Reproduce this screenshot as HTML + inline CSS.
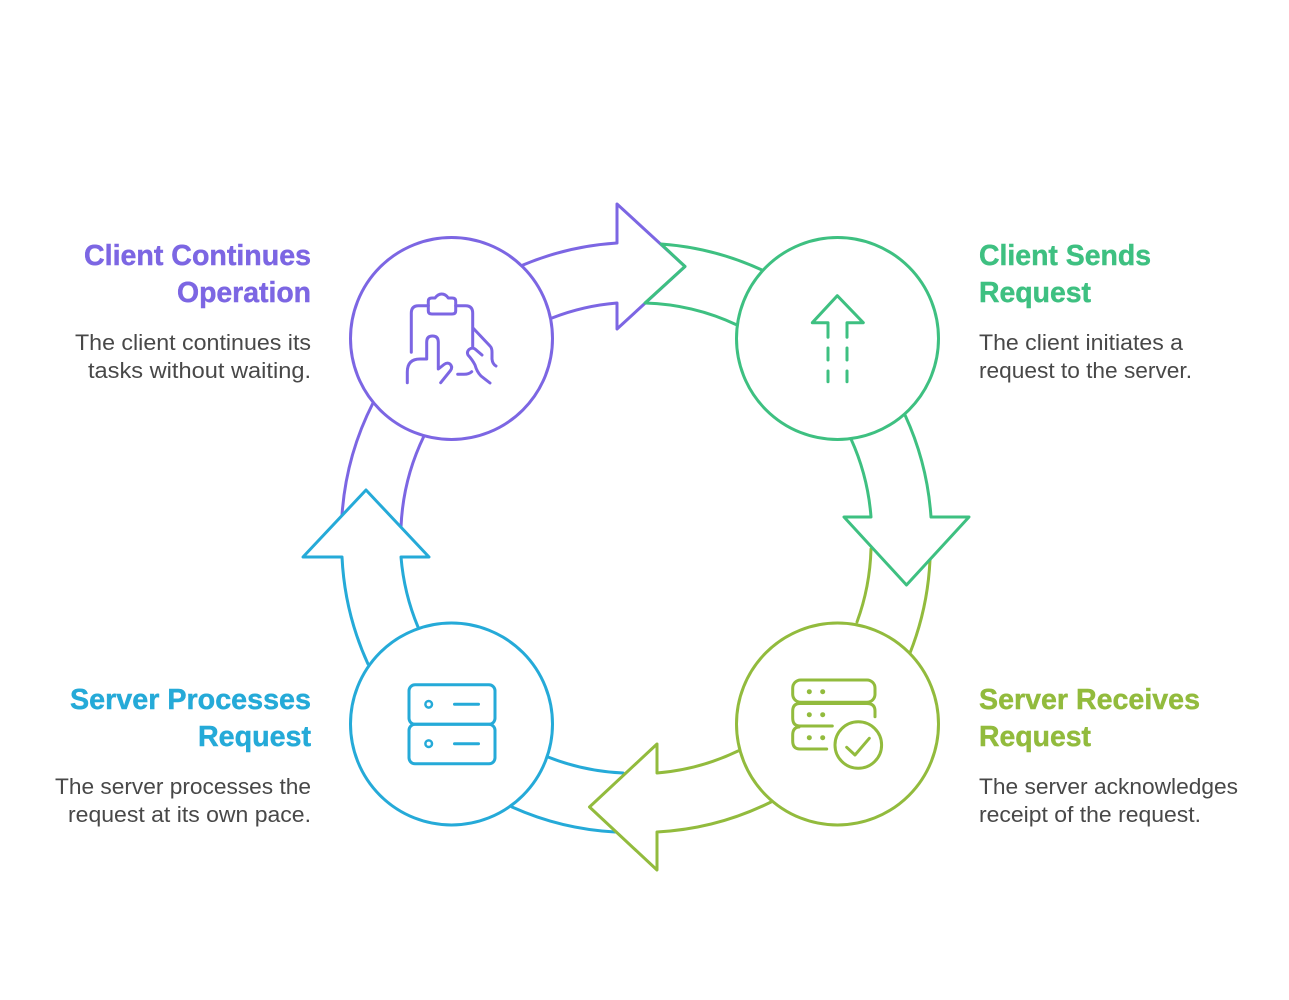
<!DOCTYPE html>
<html>
<head>
<meta charset="utf-8">
<style>
html,body{margin:0;padding:0;background:#fff;}
svg{display:block;}
.t{font-family:"Liberation Sans",sans-serif;font-weight:700;font-size:29px;stroke-width:.45;}
.b{font-family:"Liberation Sans",sans-serif;font-size:22px;fill:#484848;}
.s{fill:none;stroke-width:3;stroke-linecap:round;stroke-linejoin:round;}
.a{fill:#fff;stroke-width:3;stroke-linecap:round;stroke-linejoin:round;}
.i{fill:none;stroke-width:3;stroke-linecap:round;stroke-linejoin:round;}
</style>
</head>
<body>
<svg width="1289" height="1000" viewBox="0 0 1289 1000" xmlns="http://www.w3.org/2000/svg">
<rect width="1289" height="1000" fill="#fff"/>

<!-- purple arrow -->
<g stroke="#7C66E3">
<path class="s" d="M523 265 A290 290 0 0 1 617 243 L617 204 L685 266.5 L617 329 L617 303 A230 230 0 0 0 552 318"/>
<path class="s" d="M373 403 A290 290 0 0 0 342 515"/>
<path class="s" d="M424 436 A230 230 0 0 0 401 527"/>
</g>

<!-- green arrow -->
<g stroke="#3EC081">
<path class="s" d="M762 270 A290 290 0 0 0 661 244 L685 266.5 L645 303 A230 230 0 0 1 737 325"/>
</g>

<!-- lime lines behind green head -->
<g stroke="#92BB3D">
<path class="s" d="M871 549 A230 230 0 0 1 857 622"/>
<path class="s" d="M930 560 A290 290 0 0 1 910 653"/>
</g>
<path class="a" stroke="#3EC081" d="M905 415 A290 290 0 0 1 931 517 L969 517 L906.5 585 L844 517 L871 517 A230 230 0 0 0 851 439"/>

<!-- blue lines behind lime head -->
<g stroke="#25AAD8">
<path class="s" d="M548 757 A230 230 0 0 0 623 773"/>
<path class="s" d="M512 807 A290 290 0 0 0 615 832"/>
</g>
<path class="a" stroke="#92BB3D" d="M738 751 A230 230 0 0 1 657 773 L657 744 L589.500 807 L657 870 L657 832 A290 290 0 0 0 771 802"/>

<!-- blue arrow -->
<path class="a" stroke="#25AAD8" d="M368 664 A290 290 0 0 1 342 557 L303 557 L366 490 L429 557 L401 557 A230 230 0 0 0 418 627"/>

<!-- circles -->
<circle cx="451.500" cy="338.500" r="101" fill="#fff" stroke="#7C66E3" stroke-width="3"/>
<circle cx="837.500" cy="338.500" r="101" fill="#fff" stroke="#3EC081" stroke-width="3"/>
<circle cx="837.500" cy="724" r="101" fill="#fff" stroke="#92BB3D" stroke-width="3"/>
<circle cx="451.500" cy="724" r="101" fill="#fff" stroke="#25AAD8" stroke-width="3"/>

<!-- purple icon -->
<g class="i" stroke="#7C66E3">
<path d="M411.300 352.300 V313 Q411.300 305.700 418.500 305.700 H428.300"/>
<path d="M455.700 305.700 H465.500 Q472.700 305.700 472.700 313 V346.700"/>
<path d="M428.300 301 Q428.300 298 432 298 H435 Q438 294 441.700 294 Q445.500 294 448.300 298 H452 Q455.700 298 455.700 301 V311 Q455.700 314 452 314 H432 Q428.300 314 428.300 311 Z"/>
<path d="M473 328 L490 346 Q492 348 492 352 V359 Q492.500 364 496 366"/>
<path d="M482 355 L475 349 Q472 347 469 349.500 Q466.500 352 468 355 Q472.500 360 475 365 Q477 372 481 376 L490 383"/>
<path d="M407.300 382.700 V372 Q407.300 359 420 359 H426.700 V342 Q426.700 336 432.500 336 Q438.300 336 438.300 342 V369 L444 364.500 Q447 362 450 364 Q453 367 450.500 370.500 L440.700 382.700"/>
<path d="M457.700 374.300 H464 Q469 374.300 471.700 371.700"/>
</g>

<!-- green icon -->
<g class="i" stroke="#3EC081">
<path d="M828 337.300 V322.700 H812.300 L837.300 295.700 L863.300 322.700 H847 V337.300"/>
<path d="M828 348 V360 M828 371 V381.700 M847 348 V360 M847 371 V381.700"/>
</g>

<!-- lime icon -->
<g class="i" stroke="#92BB3D">
<rect x="792.700" y="680" width="82.300" height="22.300" rx="8"/>
<path d="M875 716.700 V711 Q875 703.500 867 703.500 H800 Q792.700 703.500 792.700 711 V718 Q792.700 726 800 726 H832.300"/>
<path d="M799 727 Q792.700 727.500 792.700 735 V741 Q792.700 749 800 749 H826.700"/>
<circle cx="858.300" cy="745" r="23.300"/>
<path d="M846.700 747.300 L855 755 L869.300 738.300"/>
<g fill="#92BB3D" stroke="none">
<circle cx="809.300" cy="691.700" r="2.500"/><circle cx="822.700" cy="691.700" r="2.500"/>
<circle cx="809.300" cy="714.700" r="2.500"/><circle cx="822.700" cy="714.700" r="2.500"/>
<circle cx="809.300" cy="737.700" r="2.500"/><circle cx="822.700" cy="737.700" r="2.500"/>
</g>
</g>

<!-- blue icon -->
<g class="i" stroke="#25AAD8">
<rect x="409" y="684.800" width="86" height="39.500" rx="6"/>
<rect x="409" y="724.300" width="86" height="39.500" rx="6"/>
<circle cx="428.700" cy="704.300" r="3.300" stroke-width="2.500"/>
<circle cx="428.700" cy="743.700" r="3.300" stroke-width="2.500"/>
<path d="M454.500 704.300 H478.500 M454.500 743.700 H478.500"/>
</g>

<!-- text: left -->
<g text-anchor="end">
<text class="t" x="311" y="265" fill="#7C66E3" stroke="#7C66E3" textLength="227" lengthAdjust="spacingAndGlyphs">Client Continues</text>
<text class="t" x="311" y="302" fill="#7C66E3" stroke="#7C66E3" textLength="134" lengthAdjust="spacingAndGlyphs">Operation</text>
<text class="b" x="311" y="350" textLength="236" lengthAdjust="spacingAndGlyphs">The client continues its</text>
<text class="b" x="311" y="378" textLength="223" lengthAdjust="spacingAndGlyphs">tasks without waiting.</text>
<text class="t" x="311" y="709" fill="#25AAD8" stroke="#25AAD8" textLength="241" lengthAdjust="spacingAndGlyphs">Server Processes</text>
<text class="t" x="311" y="746" fill="#25AAD8" stroke="#25AAD8" textLength="113" lengthAdjust="spacingAndGlyphs">Request</text>
<text class="b" x="311" y="794" textLength="256" lengthAdjust="spacingAndGlyphs">The server processes the</text>
<text class="b" x="311" y="822" textLength="243" lengthAdjust="spacingAndGlyphs">request at its own pace.</text>
</g>

<!-- text: right -->
<text class="t" x="979" y="265" fill="#3EC081" stroke="#3EC081" textLength="172" lengthAdjust="spacingAndGlyphs">Client Sends</text>
<text class="t" x="979" y="302" fill="#3EC081" stroke="#3EC081" textLength="112" lengthAdjust="spacingAndGlyphs">Request</text>
<text class="b" x="979" y="350" textLength="204" lengthAdjust="spacingAndGlyphs">The client initiates a</text>
<text class="b" x="979" y="378" textLength="213" lengthAdjust="spacingAndGlyphs">request to the server.</text>
<text class="t" x="979" y="709" fill="#92BB3D" stroke="#92BB3D" textLength="221" lengthAdjust="spacingAndGlyphs">Server Receives</text>
<text class="t" x="979" y="746" fill="#92BB3D" stroke="#92BB3D" textLength="112" lengthAdjust="spacingAndGlyphs">Request</text>
<text class="b" x="979" y="794" textLength="259" lengthAdjust="spacingAndGlyphs">The server acknowledges</text>
<text class="b" x="979" y="822" textLength="222" lengthAdjust="spacingAndGlyphs">receipt of the request.</text>
</svg>
</body>
</html>
